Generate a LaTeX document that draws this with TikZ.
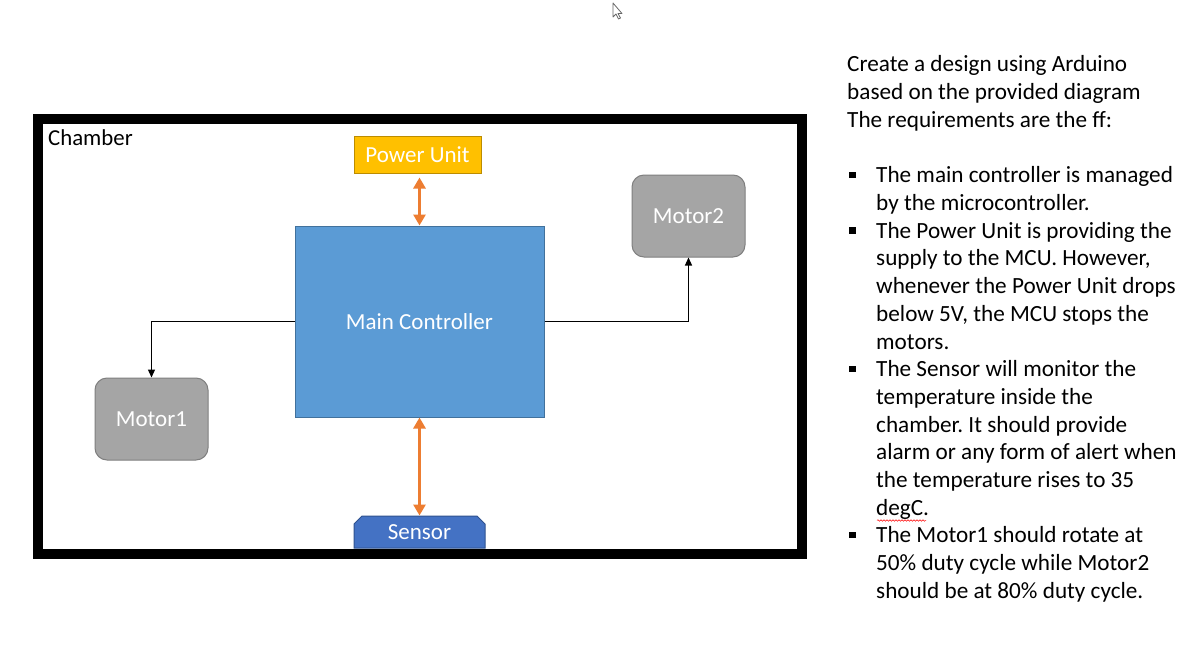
\documentclass[tikz,border=0pt]{standalone}
\usepackage{fontspec}
\setmainfont{Carlito}
\frenchspacing
\usetikzlibrary{arrows.meta,shapes.misc,decorations.pathmorphing}
\definecolor{pwr}{HTML}{FFC000}
\definecolor{pwrd}{HTML}{BC8C00}
\definecolor{mc}{HTML}{5B9BD5}
\definecolor{mcd}{HTML}{41719C}
\definecolor{mot}{HTML}{A5A5A5}
\definecolor{motd}{HTML}{7F7F7F}
\definecolor{sen}{HTML}{4472C4}
\definecolor{send}{HTML}{2F528F}
\definecolor{org}{HTML}{ED7D31}
\tikzset{
  boxtxt/.style={text=white,font=\fontsize{23}{27}\selectfont,inner sep=0pt},
  motorbox/.style={boxtxt,draw=motd,fill=mot,rounded corners=12pt,minimum width=113pt,minimum height=82pt,line width=1pt},
  orarrow/.style={draw=org,line width=3pt,{Triangle[width=12pt,length=11pt]}-{Triangle[width=12pt,length=11pt]}},
  blkarrow/.style={draw=black,line width=1.3pt,-{Triangle[width=7pt,length=8pt]}},
  para/.style={anchor=north west,align=left,inner sep=0pt,font=\fontsize{23.2}{27.7}\selectfont},
  bul/.style={fill=black,minimum size=6.5pt,inner sep=0pt}
}
\begin{document}
\begin{tikzpicture}[x=1pt,y=-1pt]
\useasboundingbox[fill=white] (0,0) rectangle (1200,656);
% chamber
\draw[line width=10pt] (38,119) rectangle (801.5,553.5);
\node[anchor=west,inner sep=0pt,font=\fontsize{22.8}{27}\selectfont] (chamber) at (48,138) {Chamber};
% boxes
\node[boxtxt,draw=pwrd,fill=pwr,minimum width=127pt,minimum height=37pt,line width=1pt] (pu) at (417.5,154.5) {\raisebox{-1pt}{Power Unit}};
\node[boxtxt,draw=mcd,fill=mc,minimum width=249pt,minimum height=191pt,line width=1pt] (main) at (419.5,321.5) {\raisebox{-1.5pt}{Main Controller}};
\node[motorbox] (m2) at (688.5,216) {Motor2};
\node[motorbox] (m1) at (151.5,419) {Motor1};
\node[boxtxt,draw=send,fill=sen,chamfered rectangle,chamfered rectangle corners={north west,north east},chamfered rectangle xsep=4pt,chamfered rectangle ysep=4pt,minimum width=131pt,minimum height=32pt,line width=1pt] (sen) at (419.5,532) {\raisebox{-2pt}{Sensor}};
% connectors
\draw[orarrow] (pu.south -| main.north) ++(0,4) coordinate (pa) -- (main.north);
\draw[orarrow] (main.south) -- (sen.north -| main.south);
\draw[blkarrow] (main.west) -| (m1.north);
\draw[blkarrow] (main.east) -| (m2.south);
% cursor
\draw[line width=0.8pt,draw=gray!80!black,fill=white,line join=round] (613,3) coordinate (cur) -- (613,17) -- (616,14) -- (618.5,19) -- (620.5,18) -- (618,13.5) -- (622,13.5) -- cycle;
% text
\node[para] (intro) at (847,55.5) {Create a design using Arduino\\based on the provided diagram\\The requirements are the ff:};
\node[para] (b1) at (876,166.5) {The main controller is managed\\by the microcontroller.};
\node[para] (b2) at (876,221.9) {The Power Unit is providing the\\supply to the MCU. However,\\whenever the Power Unit drops\\below 5V, the MCU stops the\\motors.};
\node[para] (b3) at (876,360.4) {The Sensor will monitor the\\temperature inside the\\chamber. It should provide\\alarm or any form of alert when\\the temperature rises to 35\\degC.};
\node[para] (b4) at (876,526.6) {The Motor1 should rotate at\\50\% duty cycle while Motor2\\should be at 80\% duty cycle.};
\node[bul] (d1) at (852.5,175) {};
\node[bul] (d2) at (852.5,230.4) {};
\node[bul] (d3) at (852.5,368.9) {};
\node[bul] (d4) at (852.5,535.1) {};
\draw[red,line width=0.5pt,decorate,decoration={snake,amplitude=0.8pt,segment length=3pt}] (877,520.5) coordinate (w1) -- (926,520.5);
\end{tikzpicture}
\end{document}
